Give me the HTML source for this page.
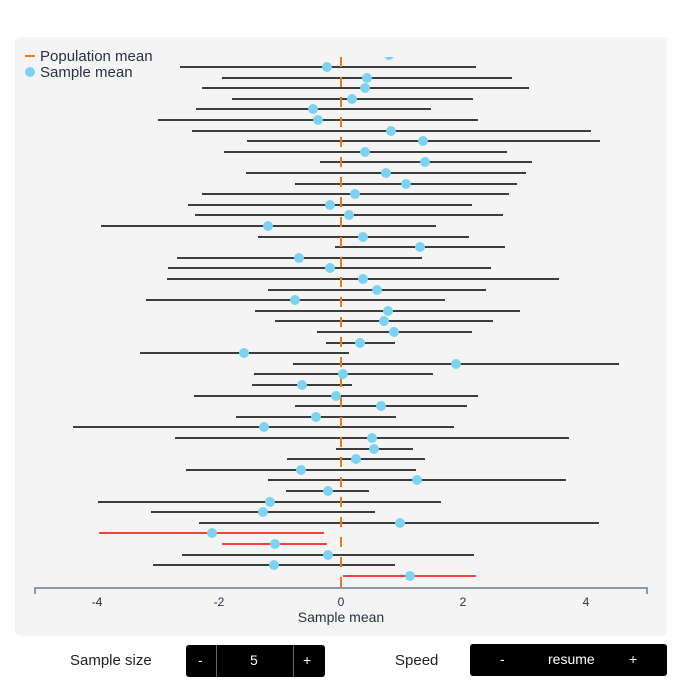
<!DOCTYPE html>
<html><head><meta charset="utf-8"><style>
body{margin:0;width:700px;height:700px;background:#fff;font-family:"Liberation Sans",sans-serif;overflow:hidden}
.panel{position:absolute;left:15px;top:37px;width:652px;height:599px;background:#f4f4f4;border-radius:6px}
svg{position:absolute;left:0;top:0}
.t{font-family:"Liberation Sans",sans-serif;fill:#2a3140}
.lbl{position:absolute;font-size:15px;color:#222;top:652px}
.btn{position:absolute;background:#000;color:#fff;border-radius:3px;font-size:14px}
.btn span{position:absolute;top:7px}
</style></head><body>
<div class="panel"></div>
<svg width="700" height="700">
<defs><clipPath id="c"><rect x="15" y="57" width="652" height="540"/></clipPath></defs>
<g clip-path="url(#c)" stroke-width="1.4">
<g stroke="#000">
<line x1="180" y1="67" x2="476" y2="67"/>
<line x1="222" y1="78" x2="512" y2="78"/>
<line x1="202" y1="88" x2="529" y2="88"/>
<line x1="232" y1="99" x2="473" y2="99"/>
<line x1="196" y1="109" x2="431" y2="109"/>
<line x1="158" y1="120" x2="478" y2="120"/>
<line x1="192" y1="131" x2="591" y2="131"/>
<line x1="247" y1="141" x2="600" y2="141"/>
<line x1="224" y1="152" x2="507" y2="152"/>
<line x1="320" y1="162" x2="532" y2="162"/>
<line x1="246" y1="173" x2="526" y2="173"/>
<line x1="295" y1="184" x2="517" y2="184"/>
<line x1="202" y1="194" x2="509" y2="194"/>
<line x1="188" y1="205" x2="472" y2="205"/>
<line x1="195" y1="215" x2="503" y2="215"/>
<line x1="101" y1="226" x2="436" y2="226"/>
<line x1="258" y1="237" x2="469" y2="237"/>
<line x1="335" y1="247" x2="505" y2="247"/>
<line x1="177" y1="258" x2="422" y2="258"/>
<line x1="168" y1="268" x2="491" y2="268"/>
<line x1="167" y1="279" x2="559" y2="279"/>
<line x1="268" y1="290" x2="486" y2="290"/>
<line x1="146" y1="300" x2="445" y2="300"/>
<line x1="255" y1="311" x2="520" y2="311"/>
<line x1="275" y1="321" x2="493" y2="321"/>
<line x1="317" y1="332" x2="472" y2="332"/>
<line x1="326" y1="343" x2="395" y2="343"/>
<line x1="140" y1="353" x2="349" y2="353"/>
<line x1="293" y1="364" x2="619" y2="364"/>
<line x1="254" y1="374" x2="433" y2="374"/>
<line x1="252" y1="385" x2="352" y2="385"/>
<line x1="194" y1="396" x2="478" y2="396"/>
<line x1="295" y1="406" x2="467" y2="406"/>
<line x1="236" y1="417" x2="396" y2="417"/>
<line x1="73" y1="427" x2="454" y2="427"/>
<line x1="175" y1="438" x2="569" y2="438"/>
<line x1="336" y1="449" x2="413" y2="449"/>
<line x1="287" y1="459" x2="425" y2="459"/>
<line x1="186" y1="470" x2="416" y2="470"/>
<line x1="268" y1="480" x2="566" y2="480"/>
<line x1="286" y1="491" x2="369" y2="491"/>
<line x1="98" y1="502" x2="441" y2="502"/>
<line x1="151" y1="512" x2="375" y2="512"/>
<line x1="199" y1="523" x2="599" y2="523"/>
<line x1="182" y1="555" x2="474" y2="555"/>
<line x1="153" y1="565" x2="395" y2="565"/>
</g>
<g stroke="#f00">
<line x1="99" y1="533" x2="324" y2="533"/>
<line x1="222" y1="544" x2="327" y2="544"/>
<line x1="343" y1="576" x2="476" y2="576"/>
</g>
<line x1="341" y1="57" x2="341" y2="590" stroke="#e87d1e" stroke-width="2" stroke-dasharray="10 10"/>
<g fill="#7dd3ef">
<circle cx="389" cy="55" r="5"/>
<circle cx="327" cy="67" r="5"/><circle cx="367" cy="78" r="5"/><circle cx="365" cy="88" r="5"/><circle cx="352" cy="99" r="5"/><circle cx="313" cy="109" r="5"/><circle cx="318" cy="120" r="5"/><circle cx="391" cy="131" r="5"/><circle cx="423" cy="141" r="5"/><circle cx="365" cy="152" r="5"/><circle cx="425" cy="162" r="5"/><circle cx="386" cy="173" r="5"/><circle cx="406" cy="184" r="5"/><circle cx="355" cy="194" r="5"/><circle cx="330" cy="205" r="5"/><circle cx="349" cy="215" r="5"/><circle cx="268" cy="226" r="5"/><circle cx="363" cy="237" r="5"/><circle cx="420" cy="247" r="5"/><circle cx="299" cy="258" r="5"/><circle cx="330" cy="268" r="5"/><circle cx="363" cy="279" r="5"/><circle cx="377" cy="290" r="5"/><circle cx="295" cy="300" r="5"/><circle cx="388" cy="311" r="5"/><circle cx="384" cy="321" r="5"/><circle cx="394" cy="332" r="5"/><circle cx="360" cy="343" r="5"/><circle cx="244" cy="353" r="5"/><circle cx="456" cy="364" r="5"/><circle cx="343" cy="374" r="5"/><circle cx="302" cy="385" r="5"/><circle cx="336" cy="396" r="5"/><circle cx="381" cy="406" r="5"/><circle cx="316" cy="417" r="5"/><circle cx="264" cy="427" r="5"/><circle cx="372" cy="438" r="5"/><circle cx="374" cy="449" r="5"/><circle cx="356" cy="459" r="5"/><circle cx="301" cy="470" r="5"/><circle cx="417" cy="480" r="5"/><circle cx="328" cy="491" r="5"/><circle cx="270" cy="502" r="5"/><circle cx="263" cy="512" r="5"/><circle cx="400" cy="523" r="5"/><circle cx="212" cy="533" r="5"/><circle cx="275" cy="544" r="5"/><circle cx="328" cy="555" r="5"/><circle cx="274" cy="565" r="5"/><circle cx="410" cy="576" r="5"/>
</g>
</g>
<path d="M35 594 V588 H647 V594" fill="none" stroke="#8e98a8" stroke-width="2"/>
<g class="t" font-size="12" text-anchor="middle">
<text x="97" y="606">-4</text><text x="219" y="606">-2</text><text x="341" y="606">0</text><text x="463" y="606">2</text><text x="586" y="606">4</text>
</g>
<text class="t" x="341" y="622" font-size="14" text-anchor="middle">Sample mean</text>
<line x1="25" y1="56" x2="35" y2="56" stroke="#e87d1e" stroke-width="2"/>
<circle cx="30" cy="72" r="5" fill="#7dd3ef"/>
<text class="t" x="40" y="61" font-size="15">Population mean</text>
<text class="t" x="40" y="77" font-size="15">Sample mean</text>
</svg>
<div class="lbl" style="left:70px">Sample size</div>
<div class="btn" style="left:186px;top:645px;width:139px;height:32px">
<span style="left:12px">-</span>
<div style="position:absolute;left:30px;top:0;width:76px;height:32px;border-left:1px solid #666;border-right:1px solid #666"></div>
<span style="left:64px">5</span><span style="left:117px">+</span></div>
<div class="lbl" style="left:395px">Speed</div>
<div class="btn" style="left:470px;top:644px;width:197px;height:32px">
<span style="left:30px">-</span><span style="left:78px">resume</span><span style="left:159px">+</span></div>
</body></html>
